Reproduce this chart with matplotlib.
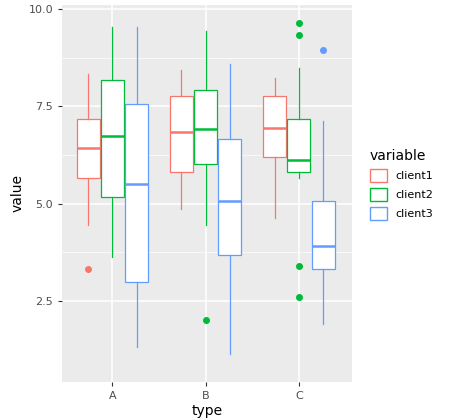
import matplotlib
matplotlib.use("Agg")
import matplotlib.pyplot as plt
from matplotlib.patches import Patch

types = ["A", "B", "C"]
clients = ["client1", "client2", "client3"]
colors = ["#F8766D", "#00BA38", "#619CFF"]
# stats per [type][client]: whislo, q1, med, q3, whishi, fliers
stats = {
 "A": [(4.44, 5.67, 6.44, 7.18, 8.33, [3.31]),
       (3.62, 5.18, 6.74, 8.18, 9.54, []),
       (1.33, 3.00, 5.51, 7.56, 9.54, [])],
 "B": [(4.85, 5.82, 6.85, 7.77, 8.44, []),
       (4.46, 6.03, 6.92, 7.92, 9.44, [2.0]),
       (1.13, 3.69, 5.08, 6.67, 8.59, [])],
 "C": [(4.64, 6.21, 6.95, 7.77, 8.23, []),
       (5.67, 5.82, 6.13, 7.18, 8.49, [9.64, 9.33, 3.41, 2.59]),
       (1.92, 3.33, 3.92, 5.08, 7.13, [8.95])],
}

fig = plt.figure(figsize=(4.6, 4.18), dpi=100)
ax = fig.add_axes([62/460, 1-382/418, 290/460, 377/418])
ax.set_facecolor("#EBEBEB")
for s in ax.spines.values():
    s.set_visible(False)
ax.grid(True, which="major", color="white", lw=1.1)
ax.grid(True, which="minor", color="white", lw=0.5)
ax.set_axisbelow(True)
off = 0.26
for i, t in enumerate(types):
    for j, c in enumerate(clients):
        lo, q1, med, q3, hi, fl = stats[t][j]
        pos = i + 1 + (j - 1) * off
        ax.bxp([dict(whislo=lo, q1=q1, med=med, q3=q3, whishi=hi, fliers=fl)],
               positions=[pos], widths=0.245, patch_artist=True, showcaps=False,
               boxprops=dict(facecolor="white", edgecolor=colors[j], lw=0.9),
               whiskerprops=dict(color=colors[j], lw=0.9),
               medianprops=dict(color=colors[j], lw=1.8),
               flierprops=dict(marker="o", markerfacecolor=colors[j],
                               markeredgecolor=colors[j], markersize=4))
ax.set_xlim(0.46, 3.57)
ax.set_ylim(0.42, 10.1)
ax.set_xticks([1, 2, 3])
ax.set_xticklabels(types)
ax.set_xticks([], minor=True)
ax.set_yticks([2.5, 5.0, 7.5, 10.0])
ax.set_yticks([3.75, 6.25, 8.75], minor=True)
ax.tick_params(axis="both", which="major", colors="#333333", labelsize=8, length=3, color="#333333")
ax.tick_params(axis="both", which="minor", length=0)
ax.tick_params(axis="x", labelcolor="#4D4D4D")
ax.tick_params(axis="y", labelcolor="#4D4D4D")
ax.set_xlabel("type", fontsize=10, labelpad=2)
ax.set_ylabel("value", fontsize=10, labelpad=3)

handles = [Patch(facecolor="white", edgecolor=col, label=c) for c, col in zip(clients, colors)]
leg = fig.legend(handles=handles, title="variable", loc="upper left",
                 bbox_to_anchor=(360/460, 1-139/418), frameon=False, fontsize=8,
                 title_fontsize=10, handlelength=1.5, handleheight=1.5, alignment="left")
fig.savefig("out.png", dpi=100)
